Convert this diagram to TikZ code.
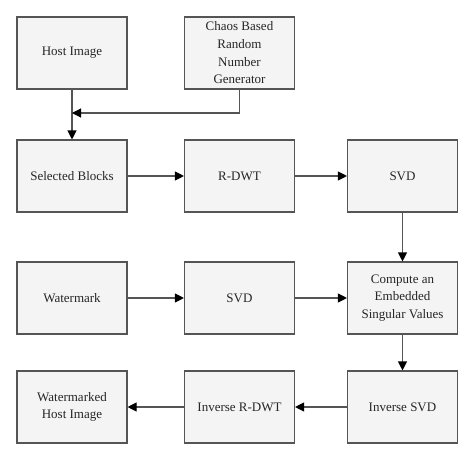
\documentclass[tikz,border=0pt]{standalone}
\usepackage{fontspec}
\setmainfont{Liberation Serif}
\usetikzlibrary{arrows.meta}
\definecolor{boxfill}{HTML}{F4F4F4}
\definecolor{boxline}{HTML}{555555}
\definecolor{arrline}{HTML}{555555}
\begin{document}
\begin{tikzpicture}[x=1pt,y=-1pt,
  blk/.style={draw=boxline,line width=1.1pt,fill=boxfill,minimum width=110pt,minimum height=72pt,
    inner sep=2pt,align=center,font=\fontsize{13}{17.7}\selectfont,text=black!85},
  conn/.style={draw=arrline,line width=1.1pt,-{Triangle[length=9pt,width=9pt,fill=black,color=black]}}]
\fill[white] (0,0) rectangle (474,460);
\useasboundingbox (0,0) rectangle (474,460);
\node[blk] (host) at (72,53) {Host Image};
\node[blk] (chaos) at (239.5,53) {Chaos Based\\Random\\Number\\Generator};
\node[blk] (sel) at (72,176) {Selected Blocks};
\node[blk] (rdwt) at (239.5,176) {R-DWT};
\node[blk] (svd1) at (402.5,176) {SVD};
\node[blk] (wm) at (72,298) {Watermark};
\node[blk] (svd2) at (239.5,298) {SVD};
\node[blk] (comp) at (402.5,298) {Compute an\\Embedded\\Singular Values};
\node[blk] (wmh) at (72,407) {Watermarked\\Host Image};
\node[blk] (irdwt) at (239.5,407) {Inverse R-DWT};
\node[blk] (isvd) at (402.5,407) {Inverse SVD};
\coordinate (join) at (72,113);
\draw[conn] (host) -- (sel);
\draw[conn] (chaos.south) |- (join);
\draw[conn] (sel) -- (rdwt);
\draw[conn] (rdwt) -- (svd1);
\draw[conn] (svd1) -- (comp);
\draw[conn] (wm) -- (svd2);
\draw[conn] (svd2) -- (comp);
\draw[conn] (comp) -- (isvd);
\draw[conn] (isvd) -- (irdwt);
\draw[conn] (irdwt) -- (wmh);
\end{tikzpicture}
\end{document}
